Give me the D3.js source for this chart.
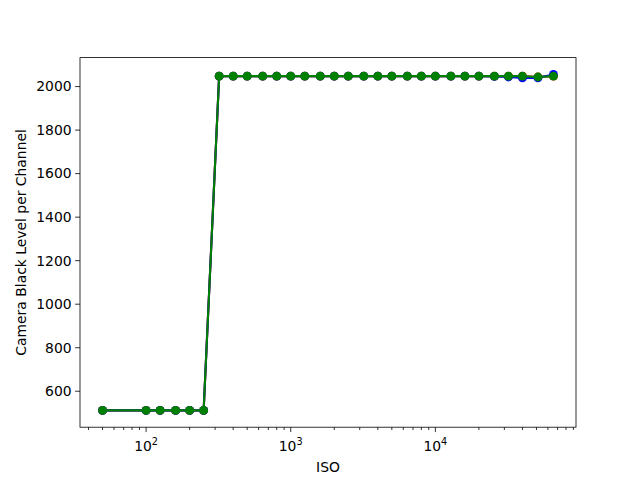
<!DOCTYPE html>
<html>
<head>
<meta charset="utf-8">
<script src="https://cdn.jsdelivr.net/npm/d3@7"></script>
<style>
  body { margin: 0; background: #fff; overflow: hidden; }
  svg { display: block; }
  text { font-family: "DejaVu Sans", sans-serif; }
</style>
</head>
<body>
<div id="chart"></div>
<script>
// ISO values (x axis, log scale)
const isoValues = [50, 100, 125, 160, 200, 250, 320, 400, 500, 640, 800, 1000, 1250, 1600, 2000,
  2500, 3200, 4000, 5000, 6400, 8000, 10000, 12800, 16000, 20000, 25600, 32000, 40000, 51200, 65535];

// black level per channel
const redLevel = [512, 512, 512, 512, 512, 512, 2048, 2048, 2048, 2048, 2048, 2048, 2048, 2048, 2048,
  2048, 2048, 2048, 2048, 2048, 2048, 2048, 2048, 2048, 2048, 2048, 2048, 2048, 2044, 2048];
const blueLevel = [512, 512, 512, 512, 512, 512, 2048, 2048, 2048, 2048, 2048, 2048, 2048, 2048, 2048,
  2048, 2048, 2048, 2048, 2048, 2048, 2048, 2048, 2048, 2048, 2047, 2044, 2040, 2040, 2056];
const greenLevel = [512, 512, 512, 512, 512, 512, 2048, 2048, 2048, 2048, 2048, 2048, 2048, 2048, 2048,
  2048, 2048, 2048, 2048, 2048, 2048, 2048, 2048, 2048, 2048, 2048, 2048, 2048, 2044, 2048];

const yTicks = [600, 800, 1000, 1200, 1400, 1600, 1800, 2000];
const xMajorTicks = [100, 1000, 10000];

const series = [
  { name: 'R', color: '#ff0000', values: redLevel },
  { name: 'B', color: '#0000ff', values: blueLevel },
  { name: 'G', color: '#008000', values: greenLevel }
];

const width = 640, height = 480;
const margin = { top: 57.6, right: 64, bottom: 52.8, left: 80 };
const innerWidth = width - margin.left - margin.right;
const innerHeight = height - margin.top - margin.bottom;

// matplotlib-like 5% padding (log space on x)
const lx = d3.extent(isoValues).map(Math.log10);
const padX = (lx[1] - lx[0]) * 0.05;
const allY = series.flatMap(s => s.values);
const ly = d3.extent(allY);
const padY = (ly[1] - ly[0]) * 0.05;

const x = d3.scaleLog()
  .domain([Math.pow(10, lx[0] - padX), Math.pow(10, lx[1] + padX)])
  .range([0, innerWidth]);
const y = d3.scaleLinear()
  .domain([ly[0] - padY, ly[1] + padY])
  .range([innerHeight, 0]);

const svg = d3.select('#chart').append('svg')
  .attr('width', width)
  .attr('height', height);

const g = svg.append('g')
  .attr('transform', `translate(${margin.left}, ${margin.top})`);

// minor ticks for log axis
const minorTicks = [];
for (let e = 1; e <= 4; e++) {
  for (let m = 2; m <= 9; m++) {
    const v = m * Math.pow(10, e);
    if (v >= x.domain()[0] && v <= x.domain()[1]) minorTicks.push(v);
  }
}

const xAxis = g.append('g').attr('transform', `translate(0, ${innerHeight})`);
xAxis.selectAll('.minor')
  .data(minorTicks)
  .join('line')
  .attr('x1', d => x(d)).attr('x2', d => x(d))
  .attr('y1', 0).attr('y2', 2.8)
  .attr('stroke', '#000').attr('stroke-width', 0.8);
xAxis.selectAll('.major')
  .data(xMajorTicks)
  .join('line')
  .attr('x1', d => x(d)).attr('x2', d => x(d))
  .attr('y1', 0).attr('y2', 4.9)
  .attr('stroke', '#000').attr('stroke-width', 0.8);
const xLabels = xAxis.selectAll('.xlab')
  .data(xMajorTicks)
  .join('text')
  .attr('x', d => x(d))
  .attr('y', 24)
  .attr('text-anchor', 'middle')
  .attr('font-size', 13.9)
  .attr('fill', '#000');
xLabels.append('tspan').text('10');
xLabels.append('tspan')
  .attr('dy', -6)
  .attr('font-size', 9.7)
  .text(d => Math.round(Math.log10(d)));

const yAxis = g.append('g');
yAxis.selectAll('line')
  .data(yTicks)
  .join('line')
  .attr('x1', -4.9).attr('x2', 0)
  .attr('y1', d => y(d)).attr('y2', d => y(d))
  .attr('stroke', '#000').attr('stroke-width', 0.8);
yAxis.selectAll('text')
  .data(yTicks)
  .join('text')
  .attr('x', -8.4)
  .attr('y', d => y(d))
  .attr('dy', '0.35em')
  .attr('text-anchor', 'end')
  .attr('font-size', 13.9)
  .attr('fill', '#000')
  .text(d => d);

// lines and markers
const line = d3.line()
  .x((d, i) => x(isoValues[i]))
  .y(d => y(d));

series.forEach(s => {
  const sg = g.append('g');
  sg.append('path')
    .attr('d', line(s.values))
    .attr('fill', 'none')
    .attr('stroke', s.color)
    .attr('stroke-width', 2.1);
  sg.selectAll('circle')
    .data(s.values)
    .join('circle')
    .attr('cx', (d, i) => x(isoValues[i]))
    .attr('cy', d => y(d))
    .attr('r', 4.4)
    .attr('fill', s.color);
});

// frame
g.append('rect')
  .attr('width', innerWidth)
  .attr('height', innerHeight)
  .attr('fill', 'none')
  .attr('stroke', '#000')
  .attr('stroke-width', 0.8);

// axis labels
svg.append('text')
  .attr('x', margin.left + innerWidth / 2)
  .attr('y', 472)
  .attr('text-anchor', 'middle')
  .attr('font-size', 13.9)
  .text('ISO');
svg.append('text')
  .attr('transform', `translate(26, ${margin.top + innerHeight / 2}) rotate(-90)`)
  .attr('text-anchor', 'middle')
  .attr('font-size', 13.9)
  .text('Camera Black Level per Channel');
</script>
</body>
</html>
